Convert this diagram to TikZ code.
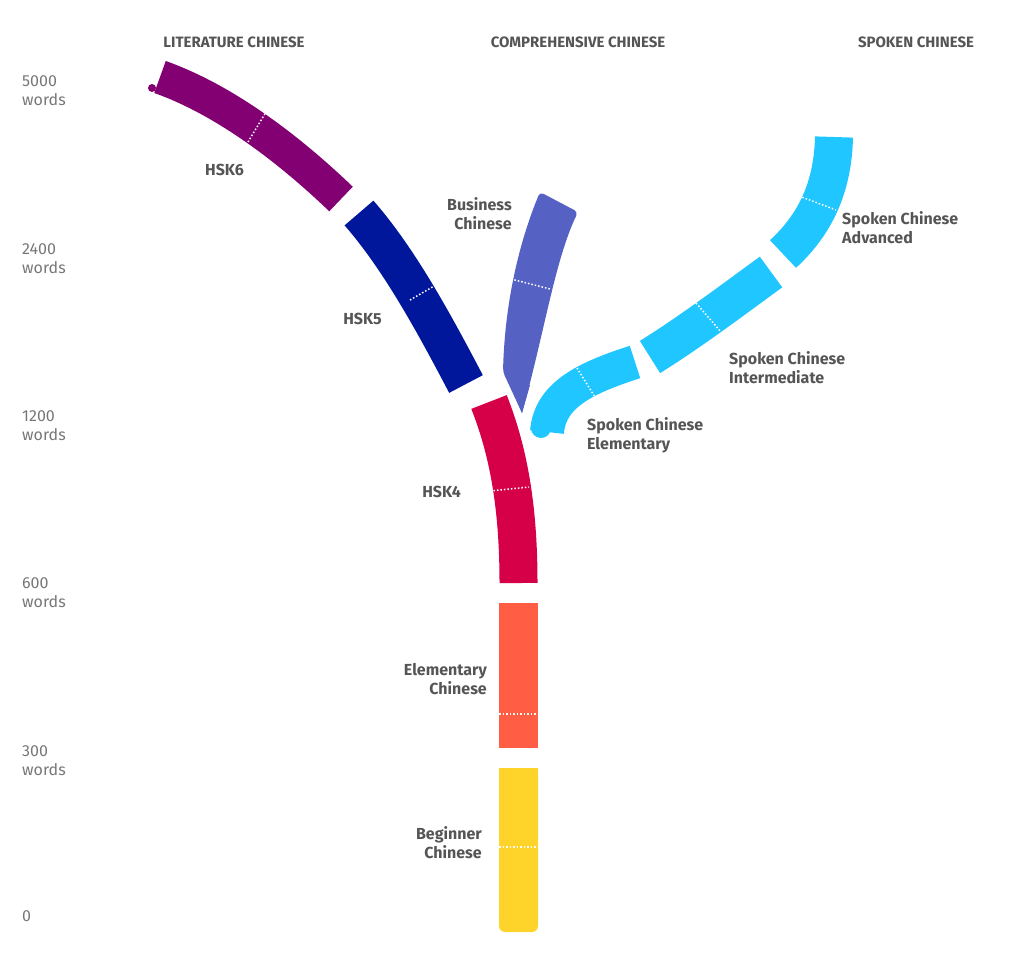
\documentclass[tikz,border=0pt]{standalone}
\usepackage{fontspec}
\setmainfont{Fira Sans}
\definecolor{cpur}{HTML}{820072}
\definecolor{cnavy}{HTML}{00179B}
\definecolor{cred}{HTML}{D50048}
\definecolor{corg}{HTML}{FF5E45}
\definecolor{cyel}{HTML}{FFD42A}
\definecolor{cbus}{HTML}{5562C4}
\definecolor{ccyan}{HTML}{1FC6FF}
\definecolor{ctxt}{HTML}{555555}
\definecolor{caxis}{HTML}{777777}
\begin{document}
\begin{tikzpicture}[x=1pt,y=-1pt,
 band/.style={line width=38pt,line cap=butt},
 dot/.style={white,line width=1.5pt,dash pattern=on 1.5pt off 2pt},
 lab/.style={font=\fontsize{16}{19}\selectfont\bfseries,text=ctxt,align=left,inner sep=0pt},
 head/.style={font=\fontsize{15}{18}\selectfont\bfseries,text=ctxt,inner sep=0pt},
 ax/.style={font=\fontsize{16}{19}\selectfont,text=caxis,align=left,anchor=west,inner sep=0pt}]
\useasboundingbox (0,0) rectangle (1024,952);
% trunk
\fill[cyel,rounded corners=6] (499,768) -- (538,768) -- (538,932) -- (499,932) -- (499,768) -- (538,768);
\fill[cyel] (499,768) rectangle (538,790);
\fill[corg] (499,603) rectangle (538,748);
\draw[band,cred] (518.5,583) .. controls (518.5,505) and (508,450) .. (489,402);
\draw[band,cnavy] (466,384) .. controls (435,325) and (400,260) .. (359,213);
\draw[band,cpur,line width=34pt] (341,199) .. controls (290,150) and (225,100) .. (160,77);
\fill[cpur] (152,88) circle (4);
% business
\fill[cbus,rounded corners=4] (522,413) -- (503,372) .. controls (505,300) and (520,240) .. (540,192) -- (578,212) .. controls (555,260) and (545,330) .. (522,413);
\fill[cbus] (522,413) -- (510,385) -- (530,385) -- cycle;
% spoken
\draw[band,ccyan,line width=34pt] (547,432) .. controls (550,395) and (585,378) .. (635,362);
\fill[ccyan] (541,428) circle (10);
\draw[band,ccyan] (650,357) .. controls (690,332) and (730,302) .. (771,272);
\draw[band,ccyan] (783,254) .. controls (820,220) and (833,180) .. (834,137);
% dotted markers
\draw[dot] (499,847) -- (538,847);
\draw[dot] (499,714) -- (538,714);
\draw[dot] (490,491) -- (529,487);
\draw[dot] (410,300) -- (441,282);
\draw[dot] (248,142) -- (266,112);
\draw[dot] (511,279) -- (550,289);
\draw[dot] (577,368) -- (598,402);
\draw[dot] (696,303) -- (721,332);
\draw[dot] (799,196) -- (836,210);
% headers
\node[head] (h1) at (234,42) {LITERATURE CHINESE};
\node[head] (h2) at (578,42) {COMPREHENSIVE CHINESE};
\node[head] (h3) at (916,42) {SPOKEN CHINESE};
% axis
\node[ax] (a1) at (22,91) {5000\\words};
\node[ax] (a2) at (22,259) {2400\\words};
\node[ax] (a3) at (22,426) {1200\\words};
\node[ax] (a4) at (22,593) {600\\words};
\node[ax] (a5) at (22,761) {300\\words};
\node[ax] (a6) at (22,916) {0};
% labels
\node[lab,anchor=east] (l1) at (244,170) {HSK6};
\node[lab,anchor=east] (l2) at (382,319) {HSK5};
\node[lab,anchor=east] (l3) at (461,492) {HSK4};
\node[lab,anchor=east,align=right] (l4) at (512,214) {Business\\Chinese};
\node[lab,anchor=east,align=right] (l5) at (487,679) {Elementary\\Chinese};
\node[lab,anchor=east,align=right] (l6) at (482,843) {Beginner\\Chinese};
\node[lab,anchor=west] (l7) at (587,435) {Spoken Chinese\\Elementary};
\node[lab,anchor=west] (l8) at (729,368) {Spoken Chinese\\Intermediate};
\node[lab,anchor=west] (l9) at (842,228) {Spoken Chinese\\Advanced};
\end{tikzpicture}
\end{document}
